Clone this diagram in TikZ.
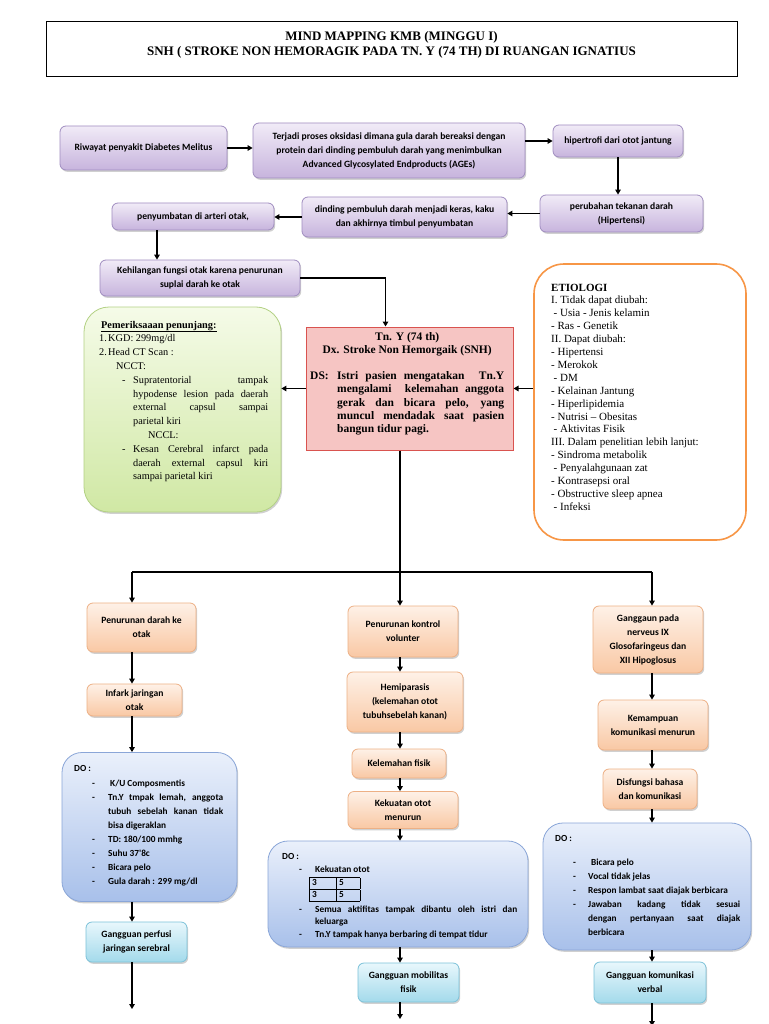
\documentclass[tikz,border=0pt]{standalone}
\usepackage{fontspec}
\setmainfont{Liberation Serif}
\newfontfamily\calib{Carlito}
\usetikzlibrary{arrows.meta,shadows}
\definecolor{pTop}{HTML}{F1EBF7}
\definecolor{pBot}{HTML}{C7B4DD}
\definecolor{pDr}{HTML}{A08DC0}
\definecolor{oTop}{HTML}{FEF1E7}
\definecolor{oBot}{HTML}{F9C8A4}
\definecolor{oDr}{HTML}{EDB085}
\definecolor{bTop}{HTML}{EAF0FB}
\definecolor{bBot}{HTML}{A8C0EA}
\definecolor{bDr}{HTML}{8AA6D8}
\definecolor{cTop}{HTML}{E8F7FC}
\definecolor{cBot}{HTML}{A3DAEB}
\definecolor{cDr}{HTML}{7CC2D9}
\definecolor{gTop}{HTML}{F5FBE8}
\definecolor{gBot}{HTML}{D0E8A4}
\definecolor{gDr}{HTML}{B3D184}
\definecolor{rFill}{HTML}{F6C5C3}
\definecolor{rDr}{HTML}{D9534F}
\definecolor{etDr}{HTML}{F79646}
\newcommand\jst[2]{\makebox[#1][s]{#2}}
\begin{document}
\begin{tikzpicture}[x=1pt,y=-1pt,
  sh/.style={drop shadow={shadow xshift=1.2pt,shadow yshift=-1.8pt,opacity=0.3,fill=black!60}},
  boxbase/.style={sh, rounded corners=6pt, align=center, inner sep=1pt, line width=0.8pt,
     font=\calib\bfseries\fontsize{9.6}{14}\selectfont},
  pbox/.style={boxbase, top color=pTop, bottom color=pBot, draw=pDr},
  obox/.style={boxbase, top color=oTop, bottom color=oBot, draw=oDr},
  cbox/.style={boxbase, top color=cTop, bottom color=cBot, draw=cDr},
  dobox/.style={sh, rounded corners=20pt, line width=0.8pt, top color=bTop, bottom color=bBot, draw=bDr},
  dotext/.style={anchor=base west, inner sep=0pt, font=\calib\bfseries\fontsize{9.3}{14}\selectfont},
  arr/.style={line width=1.5pt, -{Triangle[length=5pt,width=5.5pt]}},
  ln/.style={line width=1.5pt},
]
\useasboundingbox (0,0) rectangle (768,1024);
\fill[white] (0,0) rectangle (768,1024);

% title
\node[draw, line width=1pt, minimum width=691pt, minimum height=55pt, inner sep=0pt] (titlebox) at (391.5,49.5) {};
\node[anchor=base, inner sep=0pt, font=\bfseries\fontsize{13}{15}\selectfont] (title) at (391.5,41) {%
\begin{tabular}[t]{@{}c@{}}MIND MAPPING KMB (MINGGU I)\\SNH ( STROKE NON HEMORAGIK PADA TN. Y (74 TH) DI RUANGAN IGNATIUS\end{tabular}};

% top chain
\node[pbox, minimum width=167pt, minimum height=44pt] (riw) at (143.5,148) {Riwayat penyakit Diabetes Melitus};
\node[pbox, minimum width=272pt, minimum height=55pt] (terj) at (389,150.5) {Terjadi proses oksidasi dimana gula darah bereaksi dengan\\protein dari dinding pembuluh darah yang menimbulkan\\Advanced Glycosylated Endproducts (AGEs)};
\node[pbox, minimum width=130pt, minimum height=32pt] (hip) at (618,141) {hipertrofi dari otot jantung};
\node[pbox, minimum width=163pt, minimum height=37pt] (peru) at (621.5,213.5) {perubahan tekanan darah\\(Hipertensi)};
\node[pbox, minimum width=205pt, minimum height=40pt] (ding) at (404.5,217) {dinding pembuluh darah menjadi keras, kaku\\dan akhirnya timbul penyumbatan};
\node[pbox, minimum width=162pt, minimum height=27pt] (peny) at (193,216.5) {penyumbatan di arteri otak,};
\node[pbox, minimum width=200pt, minimum height=36pt] (keh) at (200,278) {Kehilangan fungsi otak karena penurunan\\suplai darah ke otak};

% centre
\node[draw=rDr, fill=rFill, line width=1pt, minimum width=207pt, minimum height=123pt] (tn) at (409.5,388.5) {};
\node[anchor=base west, inner sep=0pt, font=\bfseries\fontsize{11.5}{13.2}\selectfont] (tntext) at (310,340) {%
\begin{tabular}[t]{@{}p{27pt}@{}p{167pt}@{}}
\multicolumn{2}{@{}c@{}}{Tn. Y (74 th)}\\
\multicolumn{2}{@{}c@{}}{Dx. Stroke Non Hemorgaik (SNH)}\\[13.3pt]
DS:&\jst{167pt}{Istri pasien mengatakan \ Tn.Y}\\
&\jst{167pt}{mengalami \ kelemahan anggota}\\
&\jst{167pt}{gerak dan bicara pelo, yang}\\
&\jst{167pt}{muncul mendadak saat pasien}\\
&bangun tidur pagi.
\end{tabular}};

% green
\node[sh, rounded corners=25pt, top color=gTop, bottom color=gBot, draw=gDr, line width=0.8pt, minimum width=197pt, minimum height=205pt] (green) at (182.5,409.5) {};
\node[anchor=base west, inner sep=0pt, font=\fontsize{10.3}{13.8}\selectfont] (greentext) at (99,328) {%
\begin{tabular}[t]{@{}l@{}}
\hspace*{2pt}\textbf{\underline{Pemeriksaaan penunjang:}}\\
\makebox[9pt][l]{1.}KGD: 299mg/dl\\
\makebox[9pt][l]{2.}Head CT Scan :\\
\hspace*{17pt}NCCT:\\
\hspace*{23pt}\makebox[11pt][l]{-}\jst{135pt}{Supratentorial tampak}\\
\hspace*{34pt}\jst{135pt}{hypodense lesion pada daerah}\\
\hspace*{34pt}\jst{135pt}{external capsul sampai}\\
\hspace*{34pt}parietal kiri\\
\hspace*{49pt}NCCL:\\
\hspace*{23pt}\makebox[11pt][l]{-}\jst{135pt}{Kesan Cerebral infarct pada}\\
\hspace*{34pt}\jst{135pt}{daerah external capsul kiri}\\
\hspace*{34pt}sampai parietal kiri
\end{tabular}};

% etiologi
\node[draw=etDr, line width=1.6pt, rounded corners=30pt, fill=white, minimum width=212pt, minimum height=276pt] (etio) at (640,402) {};
\node[anchor=base west, inner sep=0pt, font=\fontsize{11}{12.9}\selectfont] (etiotext) at (551,291) {%
\begin{tabular}[t]{@{}l@{}}
\textbf{ETIOLOGI}\\
I. Tidak dapat diubah:\\
\hspace*{2.5pt}- Usia - Jenis kelamin\\
- Ras - Genetik\\
II. Dapat diubah:\\
- Hipertensi\\
- Merokok\\
\hspace*{2.5pt}- DM\\
- Kelainan Jantung\\
- Hiperlipidemia\\
- Nutrisi -- Obesitas\\
\hspace*{2.5pt}- Aktivitas Fisik\\
III. Dalam penelitian lebih lanjut:\\
- Sindroma metabolik\\
\hspace*{2.5pt}- Penyalahgunaan zat\\
- Kontrasepsi oral\\
- Obstructive sleep apnea\\
\hspace*{2.5pt}- Infeksi
\end{tabular}};

% column 1
\node[obox, minimum width=109pt, minimum height=49pt] (c1a) at (141.5,627.5) {Penurunan darah ke\\otak};
\node[obox, minimum width=95pt, minimum height=32pt] (c1b) at (134.5,700) {Infark jaringan\\otak};
\node[dobox, minimum width=175pt, minimum height=149pt] (c1do) at (149.5,827) {};
\node[dotext] (c1dotxt) at (74,771) {%
\begin{tabular}[t]{@{}p{18pt}@{}p{16pt}@{}l@{}}
\multicolumn{3}{@{}l@{}}{DO :}\\[1pt]
&-&\hspace*{2pt}K/U Composmentis\\
&-&\jst{115pt}{Tn.Y tmpak lemah, anggota}\\
&&\jst{115pt}{tubuh sebelah kanan tidak}\\
&&bisa digeraklan\\
&-&TD: 180/100 mmhg\\
&-&Suhu 37'8c\\
&-&Bicara pelo\\
&-&Gula darah : 299 mg/dl
\end{tabular}};
\node[cbox, minimum width=101pt, minimum height=40pt] (c1c) at (136.5,942) {Gangguan perfusi\\jaringan serebral};

% column 2
\node[obox, minimum width=110pt, minimum height=51pt] (c2a) at (403,631.5) {Penurunan kontrol\\volunter};
\node[obox, minimum width=116pt, minimum height=60pt] (c2b) at (405,702) {Hemiparasis\\(kelemahan otot\\tubuhsebelah kanan)};
\node[obox, minimum width=94pt, minimum height=29pt] (c2c) at (399,763.5) {Kelemahan fisik};
\node[obox, minimum width=110pt, minimum height=37pt] (c2d) at (403,810) {Kekuatan otot\\menurun};
\node[dobox, minimum width=260pt, minimum height=106pt] (c2do) at (398,894) {};
\node[dotext, font=\calib\bfseries\fontsize{9.3}{12.5}\selectfont] (c2dotxt) at (282,859) {%
\begin{tabular}[t]{@{}p{17pt}@{}p{16pt}@{}l@{}}
\multicolumn{3}{@{}l@{}}{DO :}\\[0.5pt]
&-&Kekuatan otot\\[27.5pt]
&-&\jst{202pt}{Semua aktifitas tampak dibantu oleh istri dan}\\
&&keluarga\\
&-&Tn.Y tampak hanya berbaring di tempat tidur
\end{tabular}};
\node[anchor=north west, inner sep=0pt, font=\calib\bfseries\fontsize{9.3}{11}\selectfont] (tbl) at (309,877) {%
\setlength\arrayrulewidth{0.8pt}\setlength\tabcolsep{3pt}%
\begin{tabular}{|p{21pt}|p{18pt}|}\hline 3&5\\\hline 3&5\\\hline\end{tabular}};
\node[cbox, minimum width=101pt, minimum height=39pt] (c2e) at (408.5,982.5) {Gangguan mobilitas\\fisik};

% column 3
\node[obox, minimum width=110pt, minimum height=67pt] (c3a) at (648,639.5) {Ganggaun pada\\nerveus IX\\Glosofaringeus dan\\XII Hipoglosus};
\node[obox, minimum width=110pt, minimum height=50pt] (c3b) at (653,725) {Kemampuan\\komunikasi menurun};
\node[obox, minimum width=94pt, minimum height=40pt] (c3c) at (650,789) {Disfungsi bahasa\\dan komunikasi};
\node[dobox, minimum width=208pt, minimum height=127pt] (c3do) at (647,886.5) {};
\node[dotext] (c3dotxt) at (555,841) {%
\begin{tabular}[t]{@{}p{18pt}@{}p{15pt}@{}l@{}}
\multicolumn{3}{@{}l@{}}{DO :}\\[10pt]
&-&\hspace*{3pt}Bicara pelo\\
&-&Vocal tidak jelas\\
&-&Respon lambat saat diajak berbicara\\
&-&\jst{152pt}{Jawaban kadang tidak sesuai}\\
&&\jst{152pt}{dengan pertanyaan saat diajak}\\
&&berbicara
\end{tabular}};
\node[cbox, minimum width=112pt, minimum height=41pt] (c3e) at (650,982.5) {Gangguan komunikasi\\verbal};

% coordinates
\coordinate (hub) at (400,572);
\coordinate (hl) at (132,572);
\coordinate (hr) at (652,572);
\coordinate (e1) at (132,1009);
\coordinate (e2) at (400,1019);
\coordinate (e3) at (652,1026);

% connectors top
\draw[arr] (riw.east) -- (riw.east -| terj.west);
\draw[arr] (hip.west -| terj.east) -- (hip.west);
\draw[arr] (hip.south) -- (hip.south |- peru.north);
\draw[arr] (peru.west) -- (peru.west -| ding.east);
\draw[arr] (ding.west) -- (ding.west -| peny.east);
\draw[arr] ([xshift=-36pt]peny.south) -- ([xshift=-36pt]peny.south |- keh.north);
\draw[arr] (keh.east) -| ([xshift=-24pt]tn.north);
\draw[arr] (tn.west) -- (tn.west -| green.east);
\draw[arr] (tn.west -| etio.west) -- (tn.east);
\draw[ln] ([xshift=-9.5pt]tn.south) -- (hub);
\draw[ln] (hl) -- (hr);

% column connectors
\draw[arr] (hl) -- (hl |- c1a.north);
\draw[arr] (hl |- c1a.south) -- (hl |- c1b.north);
\draw[arr] (hl |- c1b.south) -- (hl |- c1do.north);
\draw[arr] (hl |- c1do.south) -- (hl |- c1c.north);
\draw[arr] (hl |- c1c.south) -- (e1);

\draw[arr] (hub) -- (hub |- c2a.north);
\draw[arr] (hub |- c2a.south) -- (hub |- c2b.north);
\draw[arr] (hub |- c2b.south) -- (hub |- c2c.north);
\draw[arr] (hub |- c2c.south) -- (hub |- c2d.north);
\draw[arr] (hub |- c2d.south) -- (hub |- c2do.north);
\draw[arr] (hub |- c2do.south) -- (hub |- c2e.north);
\draw[arr] (hub |- c2e.south) -- (e2);

\draw[arr] (hr) -- (hr |- c3a.north);
\draw[arr] (hr |- c3a.south) -- (hr |- c3b.north);
\draw[arr] (hr |- c3b.south) -- (hr |- c3c.north);
\draw[arr] (hr |- c3c.south) -- (hr |- c3do.north);
\draw[arr] (hr |- c3do.south) -- (hr |- c3e.north);
\draw[arr] (hr |- c3e.south) -- (e3);
\end{tikzpicture}
\end{document}
